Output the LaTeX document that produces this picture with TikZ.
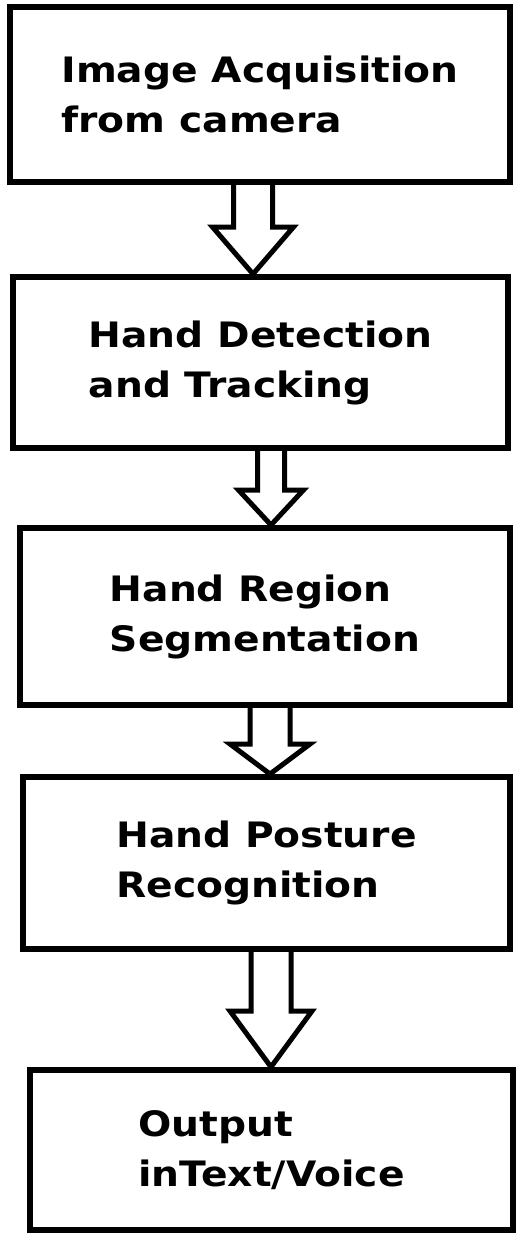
\documentclass[tikz,border=0pt]{standalone}
\usepackage{fontspec}
\newfontfamily\flowfont{DejaVu Sans}[FakeStretch=1.12]

% hollow block arrow: from, to, x of axis, half shaft, half head, head length
\newcommand{\hollowarrow}[6]{%
  \coordinate (tip) at (#3,0 |- #2.north);
  \draw[arrowline] (#3-#4,0 |- #1.south) -- ([xshift=-#4pt,yshift=#6pt]tip)
    -- ([xshift=-#5pt,yshift=#6pt]tip) -- (tip) -- ([xshift=#5pt,yshift=#6pt]tip)
    -- ([xshift=#4pt,yshift=#6pt]tip) -- (#3+#4,0 |- #1.south);
}

\begin{document}
\begin{tikzpicture}[x=1pt,y=-1pt,
  box/.style={draw,line width=6pt,align=left,inner sep=0pt,
    font=\flowfont\bfseries\fontsize{35}{50}\selectfont},
  arrowline/.style={line width=5pt,line join=miter}]
\useasboundingbox (0,0) rectangle (532,1240);

\node[box,minimum width=500pt,minimum height=175pt] (acq) at (260,94.5) {Image Acquisition\\from camera};
\node[box,minimum width=495pt,minimum height=171pt] (detect) at (260.5,362.5) {Hand Detection\\and Tracking};
\node[box,minimum width=490pt,minimum height=177pt] (segment) at (265,616.5) {Hand Region\\Segmentation};
\node[box,minimum width=487pt,minimum height=172pt] (posture) at (266.5,863) {Hand Posture\\Recognition};
\node[box,minimum width=483pt,minimum height=160pt] (output) at (271.5,1150) {Output\\inText/Voice};

\hollowarrow{acq}{detect}{253}{19.5}{40.5}{47}
\hollowarrow{detect}{segment}{271}{13.5}{32.5}{35}
\hollowarrow{segment}{posture}{270}{20}{40}{30}
\hollowarrow{posture}{output}{271}{20}{41}{56}
\end{tikzpicture}
\end{document}
